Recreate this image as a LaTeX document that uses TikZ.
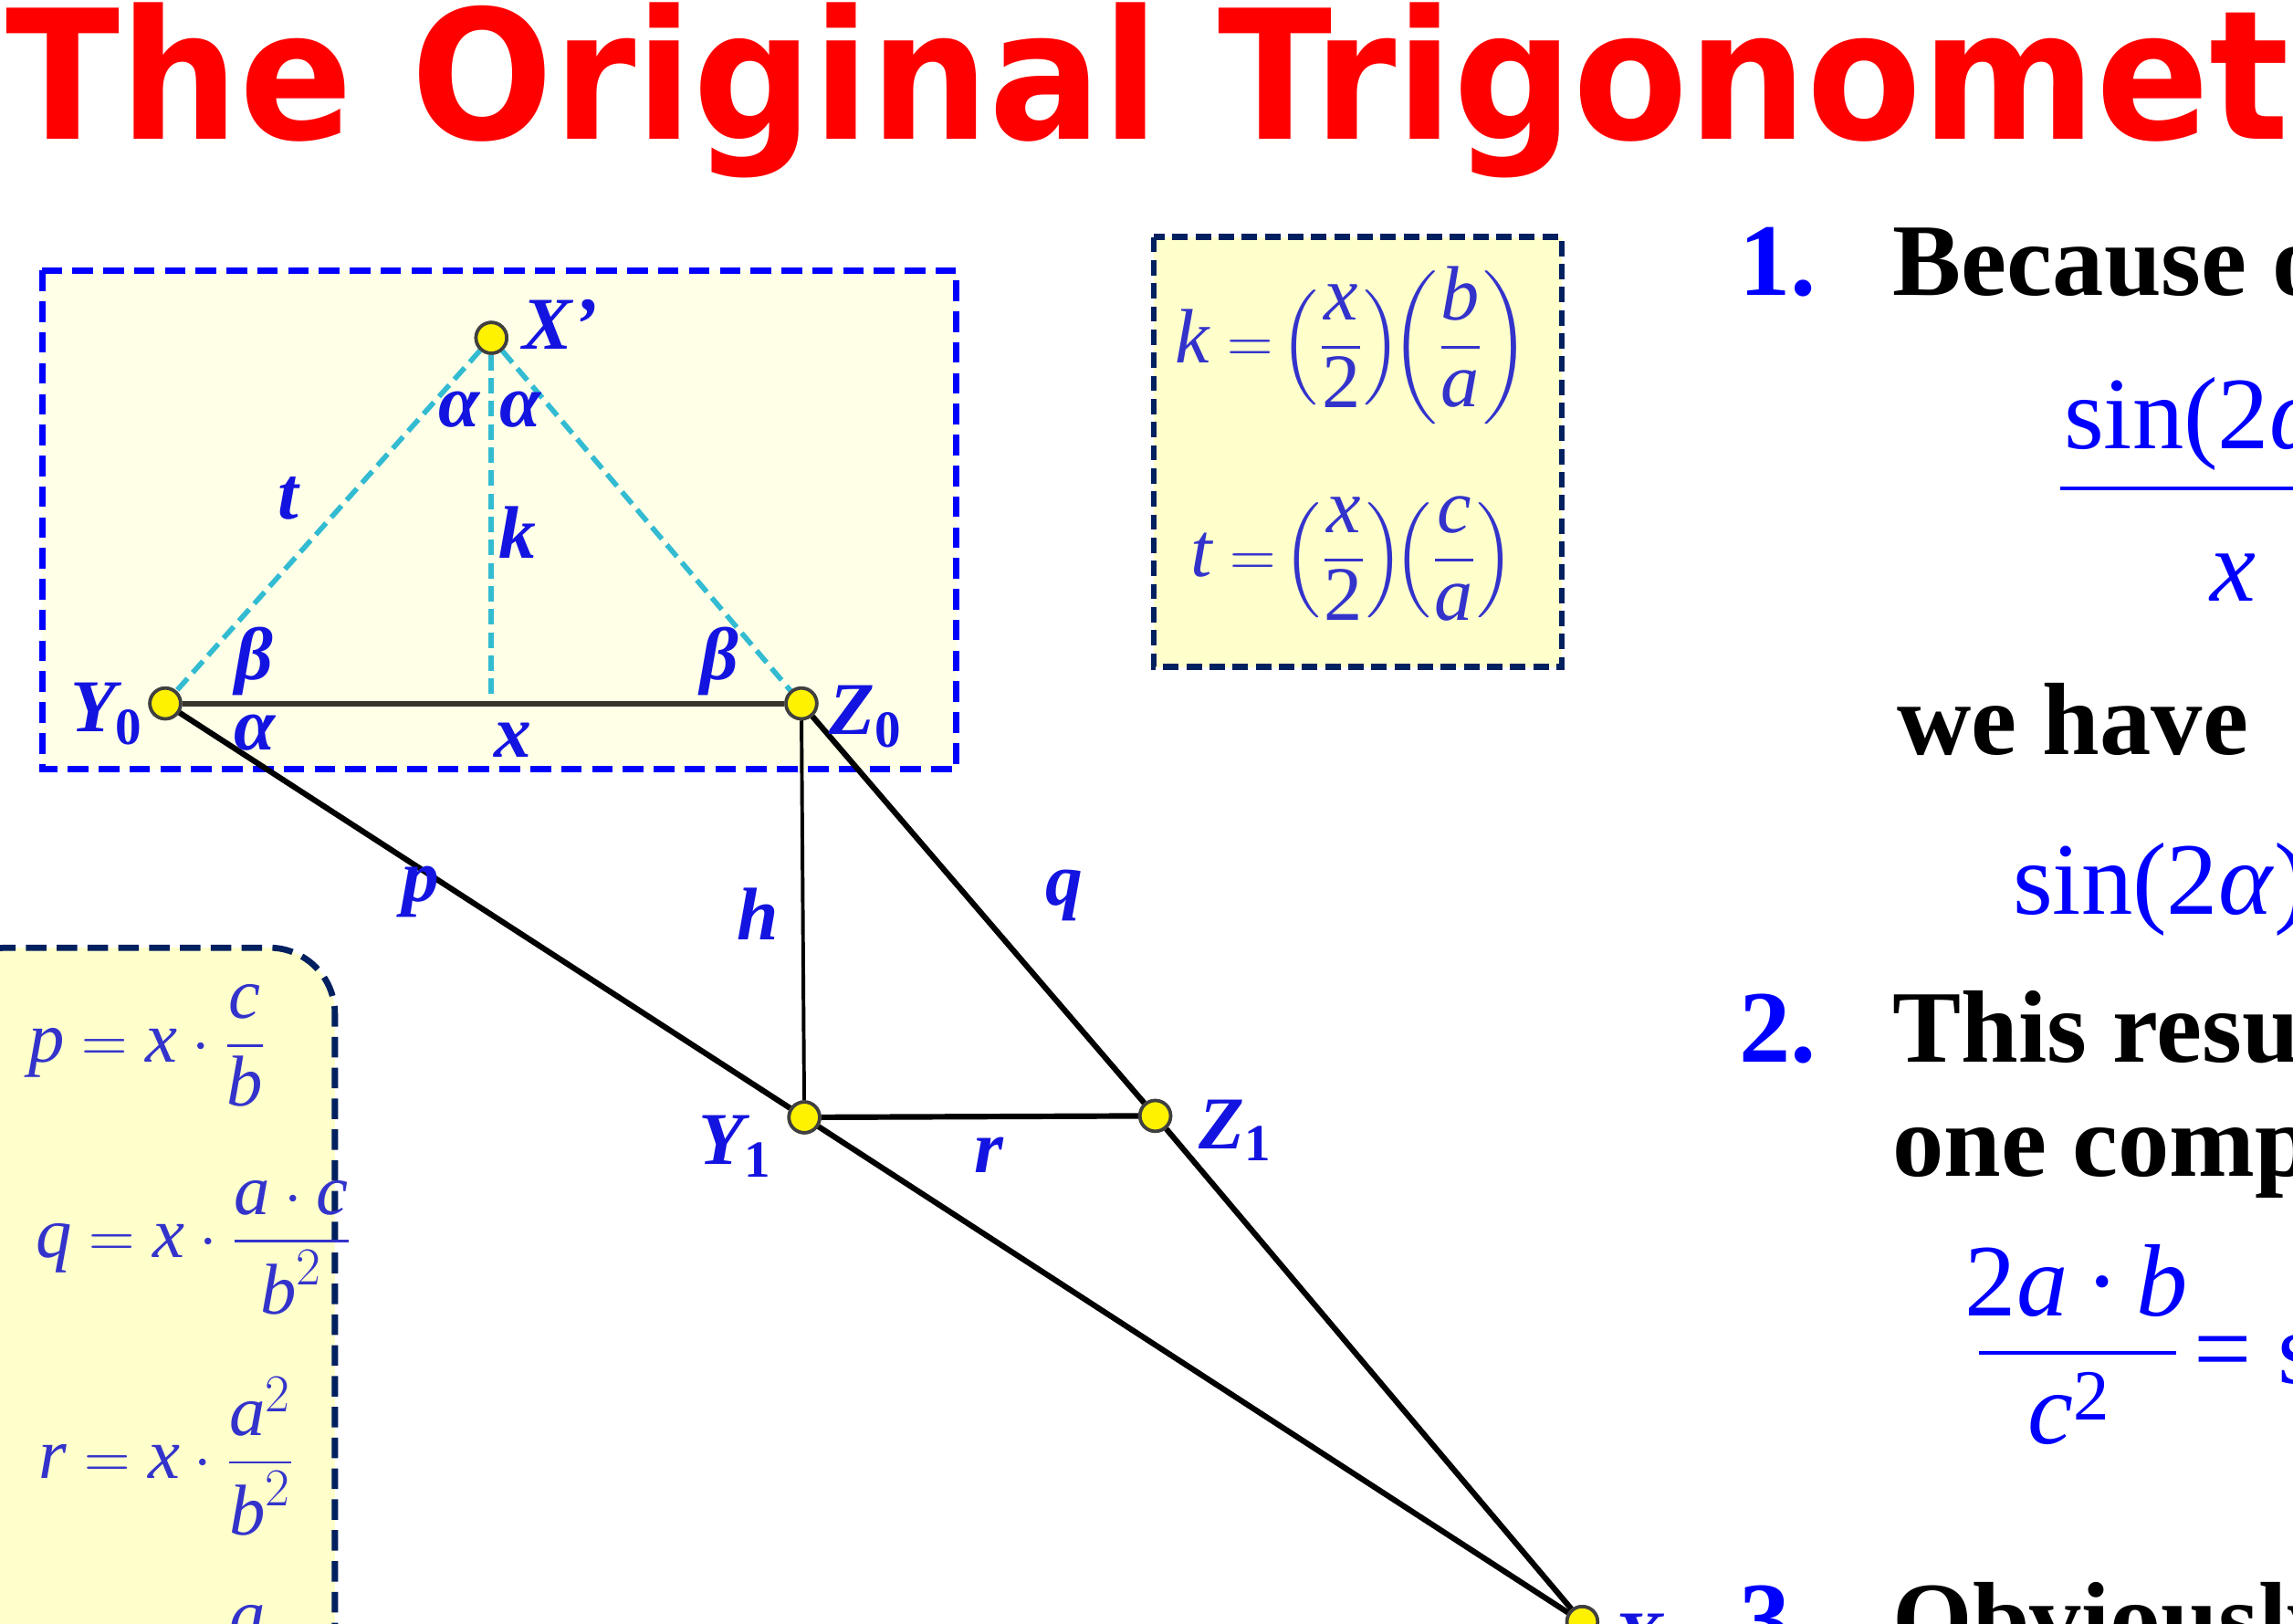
\documentclass[tikz,border=0pt]{standalone}
\usepackage{amsmath}
\usepackage{fontspec}
\setmainfont{Liberation Serif}
\newfontfamily\titlefont{DejaVu Sans}
\newcommand\mi[1]{\text{\itshape #1}}
\newcommand\rmn[1]{\text{\upshape #1}}
\definecolor{labblue}{RGB}{20,20,225}
\definecolor{fblue}{RGB}{51,51,204}
\definecolor{dcyan}{RGB}{51,187,210}
\definecolor{navy}{RGB}{0,32,96}
\definecolor{pale}{RGB}{255,255,204}
\definecolor{paler}{RGB}{255,255,232}
\definecolor{tred}{RGB}{255,0,0}
\tikzset{
  pt/.style={circle,fill=yellow,draw=black!75,line width=1.3pt,minimum size=0.42cm,inner sep=0pt},
  lab/.style={text=labblue,font=\fontsize{29}{30}\selectfont\bfseries\itshape,inner sep=0pt},
  seg/.style={line width=2.2pt,black},
  thin seg/.style={line width=1.4pt,black},
  cyand/.style={line width=2pt,dcyan,dash pattern=on 6pt off 3pt},
  eq/.style={text=fblue,font=\fontsize{30}{32}\selectfont,inner sep=0pt},
  feq/.style={text=fblue,font=\fontsize{28}{30}\selectfont,inner sep=0pt},
  rtxt/.style={font=\fontsize{40}{44}\selectfont\bfseries,anchor=base west,inner sep=0pt},
  rnum/.style={rtxt,text=blue},
  rmath/.style={font=\fontsize{40}{44}\selectfont,text=blue,anchor=base west,inner sep=0pt}
}
\begin{document}
\begin{tikzpicture}[x=0.02cm,y=-0.02cm]
\useasboundingbox (0,0) rectangle (1568,1110);
\clip (0,0) rectangle (1568,1110);
\fill[white] (0,0) rectangle (1568,1110);
% title
\node[anchor=base west,inner sep=0pt,text=tred,font=\fontsize{70}{72}\selectfont\titlefont\bfseries] (title) at (4,95) {\scalebox{0.93}[1]{The Original Trigonometric}};
% top box
\draw[fill=paler,draw=blue,line width=2.4pt,dash pattern=on 8pt off 4pt] (29,185) rectangle (654,526);
% equation box
\draw[fill=pale,draw=navy,line width=2.2pt,dash pattern=on 6pt off 3pt] (789,162) rectangle (1068,456);
\node[eq] (keq) at (925,236) {$\displaystyle \mi{k}=\!\left(\frac{\mi{x}}{\rmn{2}}\right)\!\!\left(\frac{\mi{b}}{\mi{a}}\right)$};
\node[eq] (teq) at (925,382) {$\displaystyle \mi{t}=\!\left(\frac{\mi{x}}{\rmn{2}}\right)\!\!\left(\frac{\mi{c}}{\mi{a}}\right)$};
% bottom-left box
\draw[fill=pale,draw=navy,line width=2.4pt,dash pattern=on 8pt off 4pt,rounded corners=0.9cm] (-40,1200) -- (-40,648) -- (229,648) -- (229,1200);
\node[feq,anchor=west] (peq) at (19,715) {$\displaystyle \mi{p}=\mi{x}\cdot\frac{\mi{c}}{\mi{b}}$};
\node[feq,anchor=west] (qeq) at (24,853) {$\displaystyle \mi{q}=\mi{x}\cdot\frac{\mi{a}\cdot\mi{c}}{\mi{b}^2}$};
\node[feq,anchor=west] (req) at (26,996) {$\displaystyle \mi{r}=\mi{x}\cdot\frac{\mi{a}^2}{\mi{b}^2}$};
\node[feq,anchor=west] (seq) at (26,1139) {$\displaystyle \mi{s}=\mi{x}\cdot\frac{\mi{a}}{\mi{b}}$};
% points
\coordinate (M) at (336,481);
\node[pt] (Xp) at (336,231) {};
\node[pt] (Y0) at (113,481) {};
\node[pt] (Z0) at (548,481) {};
\node[pt] (Y1) at (550,764) {};
\node[pt] (Z1) at (790,763) {};
\node[pt] (X) at (1082,1109) {};
% lines
\draw[cyand] (Xp) -- (Y0);
\draw[cyand] (Xp) -- (Z0);
\draw[cyand] (Xp) -- (M);
\draw[seg,black!80!olive] (Y0) -- (Z0);
\draw[seg] (Y0) -- (Y1);
\draw[seg] (Y1) -- (X);
\draw[seg] (Z0) -- (Z1);
\draw[seg] (Z1) -- (X);
\draw[thin seg] (Z0) -- (Y1);
\draw[seg] (Y1) -- (Z1);
\node[pt] at (Xp) {};\node[pt] at (Y0) {};\node[pt] at (Z0) {};
\node[pt] at (Y1) {};\node[pt] at (Z1) {};\node[pt] at (X) {};
% labels
\node[lab] (lXp) at (383,222) {X’};
\node[lab] (la1) at (314,280) {α};
\node[lab] (la2) at (356,280) {α};
\node[lab] (lt) at (197,341) {t};
\node[lab] (lk) at (354,364) {k};
\node[lab] (lb1) at (174,452) {β};
\node[lab] (lb2) at (492,452) {β};
\node[lab] (lY0) at (73,488) {Y\textsubscript{\upshape 0}};
\node[lab] (la3) at (174,501) {α};
\node[lab] (lx) at (351,506) {x};
\node[lab] (lZ0) at (592,490) {Z\textsubscript{\upshape 0}};
\node[lab] (lp) at (288,610) {p};
\node[lab] (lh) at (518,625) {h};
\node[lab] (lq) at (728,612) {q};
\node[lab] (lY1) at (503,784) {Y\textsubscript{\upshape 1}};
\node[lab] (lr) at (676,790) {r};
\node[lab] (lZ1) at (845,773) {Z\textsubscript{\upshape 1}};
\node[lab] (lX) at (1120,1120) {X};
% right text
\node[rnum] (n1) at (1189,202) {1.};
\node[rtxt] (t1) at (1294,202) {Because of};
\node[rmath] (f1n) at (1411,307) {sin(2\textit{α})};
\draw[blue,line width=1.5pt] (1409,334) -- (1600,334);
\node[rmath,anchor=base] (f1d) at (1527,411) {\textit{x}};
\node[rtxt] (t1b) at (1297,516) {we have};
\node[rmath] (f2) at (1376,625) {sin(2\textit{α})};
\node[rnum] (n2) at (1189,726) {2.};
\node[rtxt] (t2) at (1294,726) {This result};
\node[rtxt] (t2b) at (1294,804) {one compu};
\node[rmath,anchor=base] (f3n) at (1420,900) {2\textit{a}\,·\,\textit{b}};
\draw[blue,line width=1.5pt] (1353,925) -- (1488,925);
\node[rmath,anchor=base] (f3d) at (1415,987) {\textit{c}\textsuperscript{2}};
\node[rmath] (f3r) at (1500,946) {= sin};
\node[rnum] (n3) at (1189,1131) {3.};
\node[rtxt] (t3) at (1294,1131) {Obviously};
\end{tikzpicture}
\end{document}
